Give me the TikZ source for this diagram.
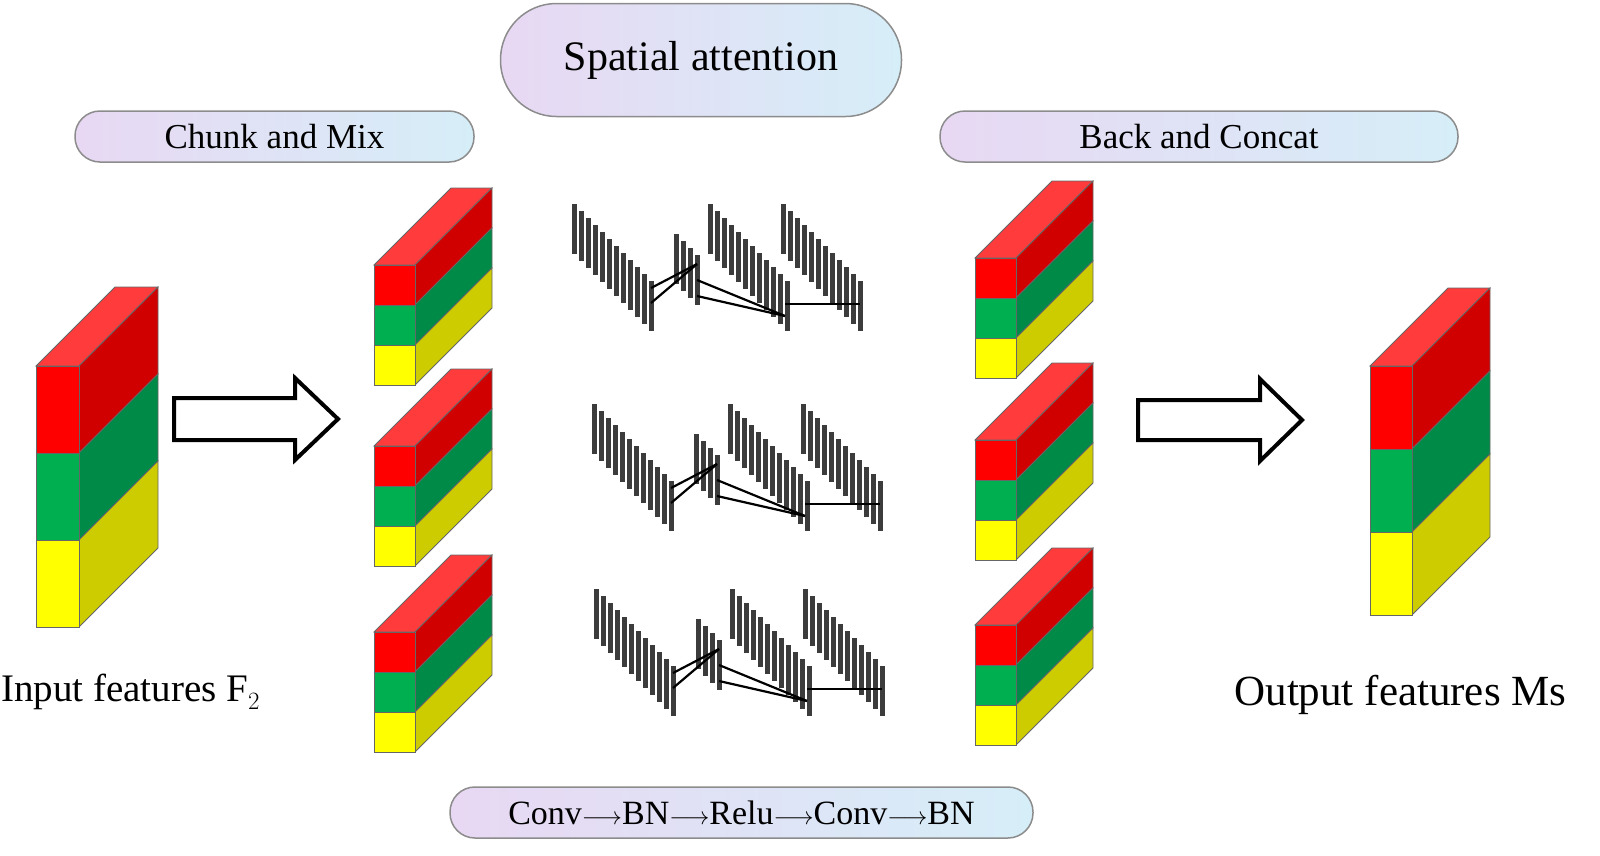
\documentclass[tikz,border=0pt]{standalone}
\usepackage{fontspec}
\setmainfont{Liberation Serif}
\definecolor{rtop}{HTML}{FF3B3B}\definecolor{rfront}{HTML}{FF0000}\definecolor{rside}{HTML}{D00000}
\definecolor{gfront}{HTML}{00B050}\definecolor{gside}{HTML}{008A48}
\definecolor{yfront}{HTML}{FFFF00}\definecolor{yside}{HTML}{CCCC00}
\definecolor{pillL}{HTML}{E8D8F3}\definecolor{pillR}{HTML}{D6EEF8}
\definecolor{bar}{HTML}{3C3C3C}
\tikzset{
 face/.style={draw=black!60,line width=0.8pt},
 pill/.style={draw=black!45,line width=1.5pt,left color=pillL,right color=pillR,rounded corners=25pt,minimum height=51pt,inner sep=0pt},
 hollow/.style={draw=black,line width=4pt,fill=white,line join=miter},
 lbl/.style={anchor=west},
 link/.style={line width=2.2pt,black}
}
% block: x, ytop, width, segment height, depth
\newcommand\featblock[5]{%
 \pgfmathsetmacro\ya{#2}\pgfmathsetmacro\yb{#2+#4}\pgfmathsetmacro\yc{#2+2*#4}\pgfmathsetmacro\yd{#2+3*#4}%
 \pgfmathsetmacro\xr{#1+#3}\pgfmathsetmacro\xd{#1+#3+#5}\pgfmathsetmacro\xl{#1+#5}%
 \filldraw[face,fill=rtop] (#1,\ya)--(\xl,\ya-#5)--(\xd,\ya-#5)--(\xr,\ya)--cycle;
 \filldraw[face,fill=rside] (\xr,\ya)--(\xd,\ya-#5)--(\xd,\yb-#5)--(\xr,\yb)--cycle;
 \filldraw[face,fill=gside] (\xr,\yb)--(\xd,\yb-#5)--(\xd,\yc-#5)--(\xr,\yc)--cycle;
 \filldraw[face,fill=yside] (\xr,\yc)--(\xd,\yc-#5)--(\xd,\yd-#5)--(\xr,\yd)--cycle;
 \filldraw[face,fill=rfront] (#1,\ya) rectangle (\xr,\yb);
 \filldraw[face,fill=gfront] (#1,\yb) rectangle (\xr,\yc);
 \filldraw[face,fill=yfront] (#1,\yc) rectangle (\xr,\yd);
}
% bar layer: x0, y0, count, step
\newcommand\barlayer[4]{%
 \foreach \k in {1,...,#3}{\pgfmathsetmacro\bx{#1+(\k-1)*#4}\pgfmathsetmacro\by{#2+(\k-1)*#4}%
 \fill[bar,draw=white,line width=0.6pt] (\bx,\by) rectangle ++(6.5,51);}%
}
\newcommand\netgroup[2]{%
 \begin{scope}[shift={(#1,#2)}]
 \barlayer{571}{203}{12}{7}
 \barlayer{673}{233}{4}{7}
 \barlayer{707}{203}{12}{7}
 \barlayer{780}{203}{12}{7}
 \draw[link] (651,288)--(697,264);
 \draw[link] (651,303)--(697,264);
 \draw[link] (697,280)--(785,316);
 \draw[link] (697,296)--(785,316);
 \draw[link] (785,304)--(860,304);
 \end{scope}}
\begin{document}
\begin{tikzpicture}[x=1pt,y=-1pt]
\useasboundingbox (0,0) rectangle (1600,855);
% pills
\node[pill,minimum width=399pt] (chunk) at (274.5,136.5) {\fontsize{35}{40}\selectfont Chunk and Mix};
\node[pill,minimum width=401pt,minimum height=113pt,rounded corners=56pt] (spatial) at (701,60) {\fontsize{42}{48}\selectfont Spatial attention};
\node[pill,minimum width=518pt] (back) at (1199,136.5) {\fontsize{35}{40}\selectfont Back and Concat};
\node[pill,minimum width=583pt] (conv) at (741.5,812.5) {\fontsize{34}{40}\selectfont Conv$\longrightarrow$BN$\longrightarrow$Relu$\longrightarrow$Conv$\longrightarrow$BN};
% big blocks
\featblock{36}{366}{43}{87}{79}
\featblock{1370}{366}{42}{83}{78}
% chunk blocks
\featblock{374}{265}{41}{40}{77}
\featblock{374}{446}{41}{40}{77}
\featblock{374}{632}{41}{40}{77}
% concat blocks
\featblock{975}{258}{41}{40}{77}
\featblock{975}{440}{41}{40}{77}
\featblock{975}{625}{41}{40}{77}
% networks
\netgroup{0}{0}
\netgroup{20}{200}
\netgroup{22}{385}
% hollow arrows
\draw[hollow] (174,398)--(295,398)--(295,378)--(338,419)--(295,460)--(295,440)--(174,440)--cycle;
\draw[hollow] (1138,400)--(1260,400)--(1260,379)--(1302,420)--(1260,461)--(1260,440)--(1138,440)--cycle;
% labels
\node[lbl,font=\fontsize{39}{44}\selectfont,inner sep=0pt] (inp) at (1,692) {Input features F$_2$};
\node[lbl,anchor=east,font=\fontsize{43}{48}\selectfont] (outp) at (1570,695) {Output features Ms};
\end{tikzpicture}
\end{document}
